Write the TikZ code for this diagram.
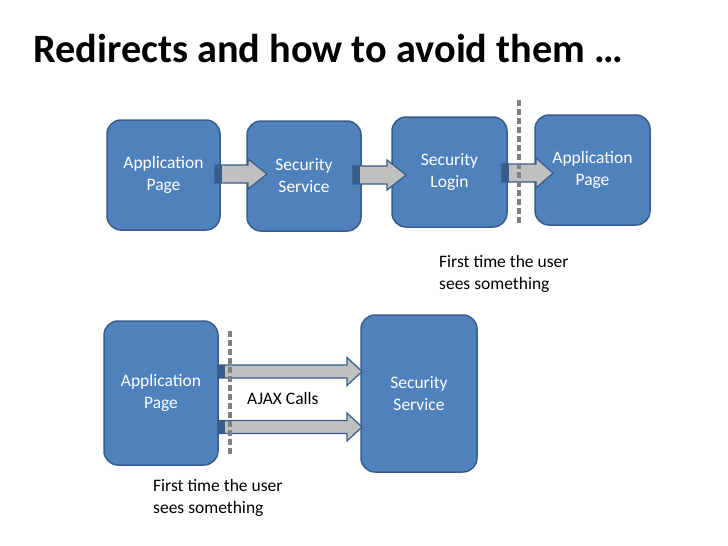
\documentclass[tikz,border=0pt]{standalone}
\usepackage{fontspec}
\setmainfont{Carlito}
\usetikzlibrary{calc}
\definecolor{boxfill}{HTML}{4F81BD}
\definecolor{boxline}{HTML}{385D8A}
\definecolor{arrfill}{HTML}{C0C0C0}
\definecolor{dashc}{HTML}{7F7F7F}
% #1 tail, #2 tip, #3 shaft half height, #4 head half height, #5 head length
\newcommand\barrow[5]{%
  \draw[blockarrow] ($(#1)+(0,-#3)$) -- ($(#2)+(-#5,-#3)$) -- ($(#2)+(-#5,-#4)$) -- (#2)
    -- ($(#2)+(-#5,#4)$) -- ($(#2)+(-#5,#3)$) -- ($(#1)+(0,#3)$) -- cycle;
  \fill[boxline] ($(#1)+(0,-#3)$) rectangle ($(#1)+(7,#3)$);}
\begin{document}
\begin{tikzpicture}[x=1pt,y=-1pt,
  box/.style={draw=boxline, line width=1.5pt, fill=boxfill, rounded corners=14pt,
    text=white, align=center, font=\fontsize{17.5}{22}\selectfont, inner sep=0pt},
  blockarrow/.style={draw=boxline, line width=1.2pt, fill=arrfill},
  divider/.style={draw=dashc, line width=4pt, dash pattern=on 6pt off 3pt},
  note/.style={align=left, font=\fontsize{17.5}{21.5}\selectfont, anchor=base west, inner sep=0pt}]
\useasboundingbox (0,0) rectangle (728,546);
\fill[white] (0,0) rectangle (728,546);

\node[anchor=base west, inner sep=0pt, font=\fontsize{40.3}{44}\bfseries] (title) at (33,62)
  {Redirects and how to avoid them …};

% top row
\node[box, minimum width=113pt, minimum height=110pt] (b1) at (163.5,175) {Application\\Page};
\node[box, minimum width=114pt, minimum height=110pt] (b2) at (304,176) {Security\\Service};
\node[box, minimum width=115pt, minimum height=110pt] (b3) at (449.5,172) {Security\\Login};
\node[box, minimum width=115pt, minimum height=110pt] (b4) at (592.5,170) {Application\\Page};

\coordinate (a1s) at (215,174); \coordinate (a1e) at (267,174);
\coordinate (a2s) at (353,175); \coordinate (a2e) at (406,175);
\coordinate (a3s) at (502,173); \coordinate (a3e) at (553,173);
\barrow{a1s}{a1e}{9}{15}{19}
\barrow{a2s}{a2e}{9}{15}{19}
\barrow{a3s}{a3e}{9}{15}{17}

\coordinate (d1t) at (519,100); \coordinate (d1b) at (519,225);
\draw[divider] (d1t) -- (d1b);

\node[note] (n1) at (439,289) {First time the user\\sees something};

% bottom row
\node[box, minimum width=114pt, minimum height=144pt] (c1) at (161,393) {Application\\Page};
\node[box, minimum width=116pt, minimum height=157pt] (c2) at (419,393.5) {Security\\Service};

\coordinate (e1s) at (218,371.5); \coordinate (e1e) at (362,371.5);
\coordinate (e2s) at (218,427); \coordinate (e2e) at (362,427);
\barrow{e1s}{e1e}{6.5}{14}{15}
\barrow{e2s}{e2e}{6.5}{14}{15}

\coordinate (d2t) at (230,331); \coordinate (d2b) at (230,455);
\draw[divider] (d2t) -- (d2b);

\node[note] (ajax) at (247,404) {AJAX Calls};
\node[note] (n2) at (153,513) {First time the user\\sees something};
\end{tikzpicture}
\end{document}
